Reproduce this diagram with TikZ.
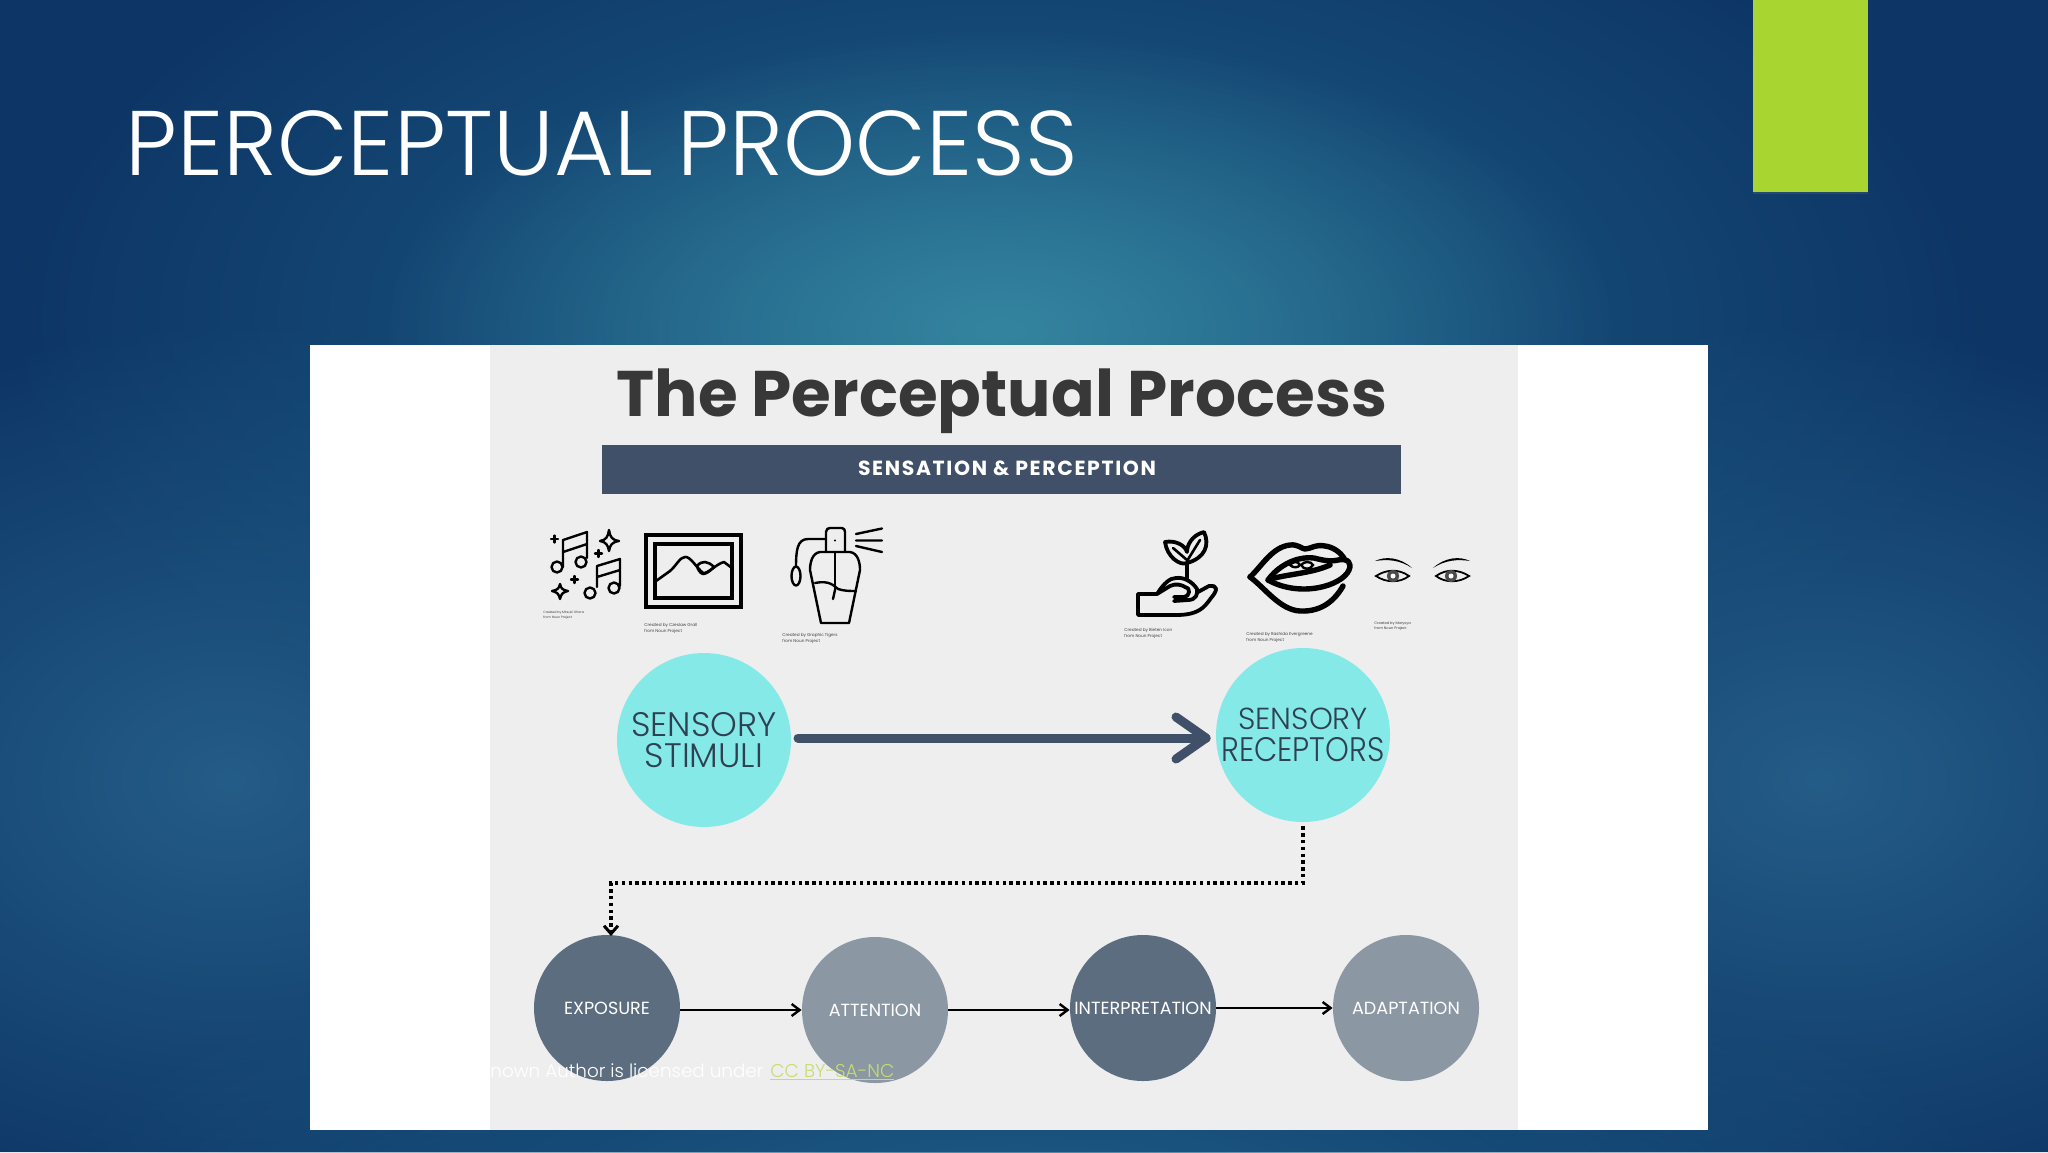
\documentclass[tikz,border=0pt]{standalone}
\usepackage{fontspec}
\usetikzlibrary{arrows.meta,fadings,shadows}
\setmainfont{Poppins}
\newfontfamily\lightf{Poppins Light}
\definecolor{tealmid}{HTML}{34849F}
\definecolor{bluemid}{HTML}{1F6088}
\definecolor{glowb}{HTML}{245D87}
\definecolor{navy}{HTML}{0D3565}
\definecolor{limeb}{HTML}{A8D52F}
\definecolor{panelg}{HTML}{EEEEEE}
\definecolor{slatebar}{HTML}{3F5068}
\definecolor{aquac}{HTML}{85EAE7}
\definecolor{inkt}{HTML}{2F4052}
\definecolor{darkc}{HTML}{5C6D80}
\definecolor{lightc}{HTML}{8B97A3}
\definecolor{linkc}{HTML}{C5DD70}
\tikzfading[name=glowfade, inner color=transparent!0, outer color=transparent!100]
\tikzset{
 icon/.style={draw=black,line width=1.2pt,line cap=round,line join=round},
 iconthick/.style={draw=black,line width=1.9pt,line cap=round,line join=round},
 lipline/.style={draw=black,line width=2.7pt,line cap=round,line join=round},
 credit/.style={font=\fontsize{2.1}{2.8}\selectfont,text=black!75,align=left,anchor=north west,inner sep=0pt},
 bigc/.style={circle,fill=aquac,minimum size=87pt,inner sep=0pt,text=inkt,align=center,font=\lightf\fontsize{17}{15.7}\selectfont},
 darkcirc/.style={circle,fill=darkc,minimum size=73pt,inner sep=0pt,text=white,font=\fontsize{8.8}{10}\selectfont},
 lightcirc/.style={circle,fill=lightc,minimum size=73pt,inner sep=0pt,text=white,font=\fontsize{8.8}{10}\selectfont},
 stepline/.style={draw=black,line width=1.2pt,-{Straight Barb[length=4pt,width=6pt,line width=1.2pt]}},
}
\begin{document}
\begin{tikzpicture}[x=0.5pt,y=-0.5pt]
\useasboundingbox (0,0) rectangle (2048,1152);
\begin{scope}
\clip (0,0) rectangle (2048,1152);
\fill[navy] (0,0) rectangle (2048,1152);
\fill[glowb,path fading=glowfade] (230,780) ellipse (620 and 460);
\fill[glowb,path fading=glowfade] (1820,780) ellipse (620 and 460);
\fill[bluemid,path fading=glowfade] (1020,1230) ellipse (1000 and 330);
\fill[bluemid,path fading=glowfade] (1000,320) ellipse (1000 and 520);
\fill[tealmid,path fading=glowfade] (1000,330) ellipse (620 and 300);
\end{scope}
% green tab
\fill[limeb,drop shadow={shadow xshift=0pt,shadow yshift=-1pt,opacity=.2}] (1753,0) rectangle (1868,192);
% title
\node[anchor=base west,inner sep=0pt,text=white] (title) at (125,175) {\resizebox{476pt}{!}{\lightf PERCEPTUAL PROCESS}};
% picture panels
\fill[white] (310,345) rectangle (1708,1130);
\fill[panelg] (490,345) rectangle (1518,1130);
\node[anchor=base,inner sep=0pt,text=black!78] (head) at (1002,416) {\resizebox{385pt}{!}{\bfseries The Perceptual Process}};
\node[fill=slatebar,minimum width=399.5pt,minimum height=24.5pt,inner sep=0pt,outer sep=0pt] (bar) at (1001,469.5) {};
\node[text=white,inner sep=0pt] (barlabel) at (1007,468) {\resizebox{149pt}{!}{\addfontfeatures{LetterSpace=8}\bfseries SENSATION \& PERCEPTION}};
% music icon
\draw[icon] (563,567) -- (563,540) -- (587,532) -- (587,558) (563,552)--(587,544);
\draw[icon] (557,567) circle (5.5) (581,562) circle (5.5);
\draw[icon] (597,587) -- (597,566) -- (620,559) -- (620,586) (597,577)--(620,570);
\draw[icon] (590,593) circle (5.5) (614,588) circle (5.5);
\draw[icon] (609,530) .. controls (610,537) and (612,540) .. (619,541) .. controls (612,542) and (610,545) .. (609,551) .. controls (608,545) and (606,542) .. (600,541) .. controls (606,540) and (608,537) .. (609,530) -- cycle;
\draw[icon] (560,584) .. controls (561,589) and (563,590) .. (568,591) .. controls (563,592) and (561,594) .. (560,599) .. controls (559,594) and (557,592) .. (552,591) .. controls (557,590) and (559,589) .. (560,584) -- cycle;
\draw[icon] (551,539) -- (558,539) (554.5,535.5) -- (554.5,542.5);
\draw[icon] (595,553.5) -- (602,553.5) (598.5,550) -- (598.5,557);
\draw[icon] (571,579.5) -- (578,579.5) (574.5,576) -- (574.5,583);
\node[credit,font=\fontsize{1.6}{2.4}\selectfont] (c1) at (543,611) {Created by Mitsuki Ohara\\from Noun Project};
% framed picture icon
\draw[line width=1.8pt,draw=black] (646,535) rectangle (741,607);
\draw[line width=1.8pt,draw=black] (655,544) rectangle (732,598);
\draw[line width=1.3pt,draw=black,line join=round,line cap=round] (656,581) -- (670,571) .. controls (676,566) and (680,557) .. (685,557) .. controls (690,556) and (696,567) .. (703,573) .. controls (708,574) and (716,564) .. (724,562) -- (732,568);
\draw[line width=1.3pt,draw=black,line join=round] (697,566) .. controls (702,560) and (708,561) .. (714,567) .. controls (710,571) and (706,574) .. (703,574) .. controls (700,573) and (698,570) .. (697,566) -- cycle;
\node[credit] (c2) at (644,623) {Created by Czeslaw Grall\\from Noun Project};
% perfume icon
\draw[icon] (826,552) -- (826,532) .. controls (826,529) and (828,528) .. (830,528) -- (842,528) .. controls (844,528) and (845,530) .. (845,532) -- (845,552);
\fill (835,540.5) circle (1.2);
\draw[icon] (826,539) -- (808,539) .. controls (797,539) and (796,551) .. (796,567);
\draw[icon] (796,576) ellipse (4.5 and 9.5);
\draw[icon] (837,552) -- (820,552) .. controls (812,553) and (810,563) .. (810,570) -- (821,623) -- (849,623) -- (860,570) .. controls (860,563) and (858,553) .. (850,552) -- (837,552);
\draw[icon] (835,552) -- (835,590);
\draw[icon] (815,583) .. controls (830,580) and (834,586) .. (838,589) .. controls (844,591) and (850,591) .. (856,591);
\draw[icon] (835,590) -- (833,599);
\draw[icon] (856,534) -- (882,528.5) (856,540.5) -- (882,540.5) (856,546) -- (882,552);
\node[credit] (c3) at (782,633) {Created by Graphic Tigers\\from Noun Project};
% hand with plant icon
\draw[iconthick] (1138,594) -- (1138,615) -- (1176,615) .. controls (1198,615) and (1204,608) .. (1211,598) .. controls (1218,590) and (1218,585) .. (1209,586) -- (1198,592);
\draw[iconthick] (1138,594) -- (1157,594) -- (1170,586) .. controls (1176,583) and (1182,585) .. (1185,587) .. controls (1191,587) and (1190,597) .. (1184,597) -- (1174,597) (1174,601) -- (1188,600) .. controls (1196,600) and (1198,594) .. (1197,589) .. controls (1192,581) and (1183,577) .. (1176,578) .. controls (1170,578) and (1164,583) .. (1157,594);
\draw[iconthick] (1187,578) -- (1187,563);
\draw[iconthick] (1187,563) .. controls (1180,566) and (1167,557) .. (1165,542) .. controls (1175,540) and (1185,545) .. (1187,552) .. controls (1187,545) and (1192,535) .. (1204,532) .. controls (1210,545) and (1205,558) .. (1187,563) -- cycle;
\draw[line width=1.3pt,line cap=round] (1187,561) -- (1200,540) (1187,560) -- (1173,548);
\node[credit] (c4) at (1124,628) {Created by Bieten Icon\\from Noun Project};
% lips icon
\draw[lipline] (1250,577) .. controls (1262,566) and (1272,547) .. (1290,545) .. controls (1298,544) and (1302,549) .. (1305,549) .. controls (1310,549) and (1316,544) .. (1325,546) .. controls (1333,547) and (1340,552) .. (1344,558);
\draw[lipline] (1250,577) .. controls (1265,588) and (1280,610) .. (1300,611) .. controls (1322,612) and (1335,600) .. (1343,586);
\draw[lipline] (1268,580) .. controls (1278,566) and (1296,556) .. (1314,558) .. controls (1322,560) and (1330,562) .. (1338,560) .. controls (1348,558) and (1352,563) .. (1349,570) .. controls (1342,586) and (1300,598) .. (1268,580) -- cycle;
\draw[lipline] (1268,580) .. controls (1285,574) and (1310,574) .. (1330,565);
\draw[line width=1.2pt] (1290,565) .. controls (1293,561) and (1298,561) .. (1300,565) .. controls (1298,568) and (1293,568) .. (1290,565) -- cycle;
\draw[line width=1.2pt] (1301,565) .. controls (1304,561) and (1311,561) .. (1313,565) .. controls (1310,570) and (1304,570) .. (1301,565) -- cycle;
\node[credit] (c5) at (1246,632) {Created by Rashida Evergreene\\from Noun Project};
% eyes icon
\fill (1375,561) .. controls (1385,556) and (1400,557) .. (1412,568) .. controls (1400,560) and (1388,559) .. (1375,561) -- cycle;
\fill (1470,561) .. controls (1460,556) and (1445,557) .. (1433,568) .. controls (1445,560) and (1458,559) .. (1470,561) -- cycle;
\draw[line width=0.9pt] (1376,576) .. controls (1385,570) and (1398,568) .. (1409,576) .. controls (1400,583) and (1386,583) .. (1376,576) -- cycle;
\draw[line width=0.9pt] (1469,576) .. controls (1460,570) and (1447,568) .. (1436,576) .. controls (1445,583) and (1459,583) .. (1469,576) -- cycle;
\fill[black!70] (1393,576) circle (6) (1451,576) circle (6);
\fill[white] (1393,576) circle (2.5) (1451,576) circle (2.5);
\node[credit,font=\fontsize{1.8}{2.6}\selectfont] (c6) at (1374,621) {Created by Marysya\\from Noun Project};
% big circles
\node[bigc] (stim) at (704,740) {\makebox[60pt]{SENSORY}\\\makebox[60pt]{STIMULI}};
\node[bigc] (rec) at (1303,735) {\fontsize{15.2}{14.4}\selectfont\makebox[60pt]{SENSORY}\\\makebox[60pt]{\scalebox{0.89}[1]{RECEPTORS}}};
\coordinate (sa) at (798,738);
\coordinate (sb) at (1206,738);
\draw[slatebar,line width=4.5pt,line cap=round,line join=round] (sa) -- (sb);
\draw[slatebar,line width=4.5pt,line cap=round,line join=round] (1176,717) -- (sb) -- (1176,759);
% small circles
\node[darkcirc] (expo) at (607,1008) {EXPOSURE};
\node[lightcirc] (atte) at (875,1010) {ATTENTION};
\node[darkcirc] (inte) at (1143,1008) {INTERPRETATION};
\node[lightcirc] (adap) at (1406,1008) {ADAPTATION};
\draw[stepline] (expo.east |- atte.west) -- (atte.west);
\draw[stepline] (atte.east) -- (inte.west |- atte.east);
\draw[stepline] (inte.east) -- (adap.west);
% dotted connector
\coordinate (d1) at (1303,883);
\coordinate (d2) at (611,883);
\coordinate (d3) at (611,936);
\draw[black,line width=1.7pt,dash pattern=on 1.7pt off 1.7pt,-{Straight Barb[length=4pt,width=7pt,line width=1.5pt]}] (rec.south) ++(0,4) -- (d1) -- (d2) -- (d3);
% footer text
\node[anchor=base west,inner sep=0pt,text=white] (foot) at (490,1077) {\resizebox{136.5pt}{!}{\lightf nown Author is licensed under}};
\node[anchor=base west,inner sep=0pt,text=linkc] (lnk) at (770,1077) {\resizebox{62pt}{!}{\lightf\underline{CC BY-SA-NC}}};
\end{tikzpicture}
\end{document}
